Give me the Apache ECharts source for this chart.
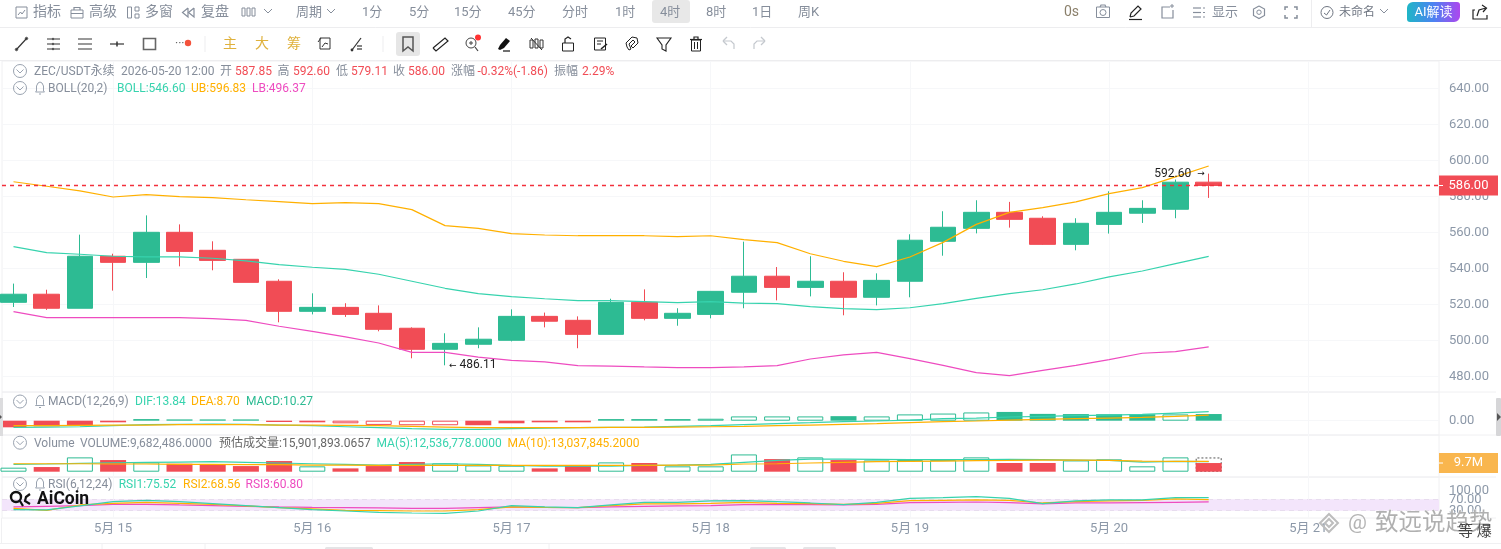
<!DOCTYPE html>
<html><head><meta charset="utf-8">
<style>html,body{margin:0;padding:0;background:#fff}#c{width:1501px;height:549px}</style>
<script src="https://cdn.jsdelivr.net/npm/echarts@6/dist/echarts.min.js"></script>
</head><body><div id="c"></div>
<script>
const dayIndex=[3,9,15,21,27,33,39];
const dayLabels=['5月 15','5月 16','5月 17','5月 18','5月 19','5月 20','5月 21'];
const priceTicks=[480,500,520,540,560,580,600,620,640];
const opens=[521.1,525.6,517.8,546.7,543.3,560,550,545,532.8,516.1,518.3,515,506.7,495,497.8,500,513.3,511.1,503.3,521.1,512.2,514.4,526.7,535.6,529.4,532.8,523.9,532.8,555,562.2,571.1,567.8,553.3,564.4,570.6,572.8,587.85];
const closes=[525.6,517.8,546.7,543.3,560,549.4,544.4,532.2,516.1,518.3,514.4,506.1,495,498.3,500.6,513.3,510.6,503.3,521.1,512.2,515,527.2,535.6,529.4,532.8,523.9,533.3,555.6,562.8,571.1,567.2,553.3,565,571.1,573.3,587.85,586];
const lows=[518.5,516.9,517.8,527.6,534.6,541.1,538.9,532.2,510,514.4,513,505,490,486.11,495.6,499.4,507.2,495.6,503.3,511.1,508.1,512.2,517.8,522.2,524.4,513.9,519.4,523.9,547,559.4,562.6,553,550,559.3,565.2,567.8,579.11];
const highs=[531.5,528.1,558.7,548.1,569.4,564.4,555,545,533.9,526.1,520.6,519.4,507.2,503.9,507.2,517.2,515.4,513.3,523.1,528.3,517.8,527.2,554.8,540.7,546.7,537.8,537.2,558.9,571.7,577.8,576.9,568.9,567.8,582.8,577.8,589.3,592.6];
const bollMid=[552,548.7,547.8,546.7,546.3,546.3,545.6,544.1,542,540.6,539.4,536.7,532.8,528.9,525.9,524.3,523.1,522,522,521.5,520.9,521.5,520.7,520.4,518.7,517.6,517,518.1,520.4,523.3,525.9,528.1,531.3,535.2,538.5,542.6,546.6];
const bollUp=[588.1,585.6,583,579.6,580.9,579.8,579.3,578.1,577,575.9,576.5,575.9,572.6,563.7,562.2,559.3,558.5,558.1,558.1,558.1,557.6,558.1,555.9,554.3,548.1,543.9,540.9,546.3,554.4,564.4,571.1,573.7,576.9,581.5,584.8,590.8,596.83];
const bollLow=[515.9,512.6,512.6,512.6,512.6,512.6,512,511.1,507.8,505,501.9,498.5,493.3,493.3,490.7,488.9,488,485.9,485.7,485.2,484.8,484.8,485.2,485.9,489.6,491.9,493.3,489.8,486.1,482,480.4,483.3,486.1,489.3,492.8,493.7,496.37];
const macdBars=[-10.2,-8.7,-7,-2.5,2.5,2,2,2,-2,-2.5,-4,-6.5,-7,-7,-7,-4,-2.5,-2.5,2.5,2.5,2.5,3,6.6,6.6,6.6,7,6.6,9.7,11,12.7,13.5,10.5,10.2,10,10,9.7,10.27];
const macdHollow=[0,0,0,0,0,0,0,0,0,0,1,1,1,1,0,0,0,0,0,0,0,1,1,1,1,0,1,1,1,1,0,0,0,0,0,1,0];
const dif=[-10.3,-9.8,-9.3,-7.7,-6.2,-5.7,-5.1,-5.7,-6.7,-7.7,-9.3,-10.8,-12.3,-13.4,-13.4,-12.3,-11.3,-10.8,-10.3,-9.8,-8.7,-7.7,-6.2,-4.6,-3.1,-1.5,-0.5,1,3.1,4.1,5.7,6.7,7.7,8.7,9.8,11.8,13.84];
const dea=[-7.7,-7.7,-7.2,-6.7,-6.7,-6.2,-6.2,-6.2,-6.7,-6.7,-7.2,-7.7,-8.7,-9.8,-10.8,-10.8,-10.8,-10.8,-10.3,-10.3,-9.8,-9.3,-8.7,-7.7,-6.7,-5.7,-4.6,-3.1,-1.5,-0.5,1,2,3.1,4.1,5.1,6.7,8.7];
const volumes=[4.5,5.2,16,13,10.4,8.9,7.8,6.3,11.9,6,3.7,6.3,10.8,9.3,7,6.7,3.7,7,10.4,9.7,6,6,19.3,14.1,16,13,12.6,13,13,16,9.7,9.7,12.6,13.8,6,16,9.68];
const volumeHollow=[1,0,1,0,1,0,0,0,0,1,0,0,0,1,1,1,0,0,1,0,1,1,1,0,1,0,1,1,1,1,0,0,1,1,1,1,0];
const volumeForecast=15.9;
const volMa5=[8.2,8.6,9.3,10,10.4,10.8,11.2,10.4,9.7,8.9,8.2,7.4,8.2,8.9,8.2,7.1,6.3,6.3,6.3,7.1,7.4,8.2,10.4,12.6,14.1,14.1,13.8,13.4,13.4,13.4,13.8,13.4,13,12.6,10.8,11.5,11.2];
const volMa10=[8.9,8.9,8.9,8.6,8.6,8.2,8.2,7.8,7.8,7.4,7.4,7.1,7.1,7.1,7.1,7.1,7.1,7.1,7.1,7.1,7.4,7.4,8.6,8.9,9.7,10.4,11.2,11.5,11.9,12.3,12.6,13,13,12.6,11.9,11.5,11.5];
const rsi1=[33.7,32.6,46.6,61.8,66.5,61.8,54.8,47.8,40.8,33.7,29,24.4,22,20.9,29,47.8,43.1,40.8,50.1,59.5,59.5,64.2,65.3,61.8,57.1,51.3,59.5,73.5,75.9,79.4,73.5,54.8,64.2,67.7,67.7,75.9,75.52];
const rsi2=[38.4,31.4,50.1,56,59.5,56,52.5,46.6,40.8,36.1,31.4,30.2,29,29,33.7,43.1,41.9,40.8,47.8,53.6,53.6,56,59.5,56,54.8,52.5,56,65.3,66.5,67.7,66.5,57.1,61.8,64.2,66.5,71.2,68.56];
const rsi3=[43.1,45.4,47.8,52.5,52.5,50.1,47.8,45.4,43.1,41.9,40.8,39.6,38.4,38.4,40.8,43.1,41.9,40.8,43.1,45.4,46.6,47.8,51.3,52.5,51.3,50.1,52.5,58.3,59.5,60.6,58.3,53.6,57.1,57.1,58.3,59.5,60.8];

const GREEN='#2dbb93',RED='#f14c55',TEAL='#37d3ae',ORANGE='#ffb000',PINK='#ee4cc0',GRID='#f6f7f9',LINE='#f0f0f2',AXT='#8c98a8',TXT='#868e9b';
const FONT='Roboto,"Noto Sans CJK SC",sans-serif';
const xMin=-0.3464,xMax=42.937,barW=26;
const idx=opens.map((_,i)=>i);
const pair=a=>a.map((v,i)=>[i,v]);
const panes=[
 {top:61,bottom:392,min:471.28,max:655.17,ticks:priceTicks,labels:priceTicks},
 {top:392,bottom:435,min:-22.03,max:44.2,ticks:[0],labels:[0]},
 {top:435,bottom:477,min:-5.92,max:41,ticks:[],labels:[]},
 {top:477,bottom:518,min:4.4,max:148.2,ticks:[30,70],labels:[30,100]}
];
const grids=panes.map(p=>({left:2,width:1437,top:p.top,height:p.bottom-p.top,show:true,borderColor:LINE,borderWidth:1,backgroundColor:'transparent'}));
const xAxes=panes.map((p,k)=>({type:'value',gridIndex:k,min:xMin,max:xMax,
 axisLine:{show:false},axisTick:{show:false,customValues:dayIndex},
 axisLabel:k===3?{show:true,customValues:dayIndex,formatter:v=>dayLabels[dayIndex.indexOf(v)]||'',color:AXT,fontSize:13,fontFamily:FONT,margin:4,hideOverlap:false}:{show:false},
 splitLine:{show:true,lineStyle:{color:GRID,width:1}}}));
const yLabel=vals=>({show:vals.length>0,customValues:vals,formatter:v=>v.toFixed(2),color:AXT,fontSize:13,fontFamily:FONT,margin:10,hideOverlap:false,showMinLabel:true,showMaxLabel:true});
const yAxes=panes.map((p,k)=>({type:'value',gridIndex:k,position:'right',min:p.min,max:p.max,
 axisLine:{show:false},axisTick:{show:false,customValues:p.ticks},
 axisLabel:yLabel(p.labels),
 splitLine:{show:p.ticks.length>0,lineStyle:k===3?{color:'#c4c4c8',type:[5,4],width:1}:{color:GRID,width:1}}}));
// second RSI label axis: its one label overlaps the others, as in the reference
yAxes.push({type:'value',gridIndex:3,position:'right',offset:0,min:panes[3].min,max:panes[3].max,axisLine:{show:false},axisTick:{show:false,customValues:[70]},axisLabel:yLabel([70]),splitLine:{show:false}});
const line=(name,data,color,k,w)=>({name,type:'line',data:pair(data),xAxisIndex:k,yAxisIndex:k,symbol:'none',silent:true,z:5,lineStyle:{color,width:w||1.2},itemStyle:{color}});
const tag=(text,bg)=>({show:true,position:'end',distance:0,formatter:'{a|'+text+'}',rich:{a:{width:59,height:20,lineHeight:20,align:'center',backgroundColor:bg,color:'#fff',fontSize:13,fontFamily:FONT}}});
const hollowBars=(vals,flags,colorOf,k,name)=>({name,type:'bar',xAxisIndex:k,yAxisIndex:k,barWidth:barW,barGap:'-100%',silent:true,z:3,
 data:vals.map((v,i)=>{const c=colorOf(i,v);return {value:[i,v],itemStyle:flags[i]?{color:'#fff',borderColor:c,borderWidth:1}:{color:c,borderColor:c,borderWidth:0}}})});
const annot={a:{fontSize:12,color:'#222',fontFamily:FONT},r:{fontSize:9,color:'#111',fontFamily:'"DejaVu Sans"'}};
const lowest=Math.min(...lows),highest=Math.max(...highs);
const series=[
 {name:'K',type:'candlestick',xAxisIndex:0,yAxisIndex:0,barWidth:barW,silent:true,z:3,
  data:idx.map(i=>[i,opens[i],closes[i],lows[i],highs[i]]),
  itemStyle:{color:GREEN,color0:RED,borderColor:GREEN,borderColor0:RED,borderWidth:1},
  markPoint:{silent:true,symbol:'circle',symbolSize:0,animation:false,z:8,data:[
    {coord:[lows.indexOf(lowest),lowest],label:{show:true,position:'right',distance:4,formatter:'{r|←} {a|'+lowest.toFixed(2)+'}',rich:annot}},
    {coord:[highs.indexOf(highest),highest],label:{show:true,position:'left',distance:4,formatter:'{a|'+highest.toFixed(2)+'}  {r|→}',rich:annot}}
  ]}
 },
 {name:'Last',type:'line',xAxisIndex:0,yAxisIndex:0,symbol:'none',silent:true,z:6,data:[[xMin,closes[36]],[xMax,closes[36]]],lineStyle:{color:'#f2303c',type:[4,4],width:1.5},itemStyle:{color:RED},
  markLine:{silent:true,symbol:'none',animation:false,z:9,lineStyle:{color:'transparent',width:0},label:tag(closes[36].toFixed(2),RED),data:[[{coord:[xMin,closes[36]]},{coord:[xMax,closes[36]]}]]}},
 line('BOLL',bollMid,TEAL,0),line('UB',bollUp,ORANGE,0),line('LB',bollLow,PINK,0),
 hollowBars(macdBars,macdHollow,(i,v)=>v>=0?GREEN:RED,1,'MACD'),
 line('DIF',dif,TEAL,1),line('DEA',dea,ORANGE,1),
 hollowBars(volumes,volumeHollow,(i)=>volumeHollow[i]?GREEN:RED,2,'VOLUME'),
 {name:'Forecast',type:'bar',xAxisIndex:2,yAxisIndex:2,barWidth:barW,barGap:'-100%',silent:true,z:2,data:[[36,volumeForecast]],itemStyle:{color:'transparent',borderColor:'#555',borderWidth:1,borderType:[2,2]}},
 Object.assign(line('MA5',volMa5,TEAL,2),{markLine:{silent:true,symbol:'none',animation:false,z:9,lineStyle:{color:'transparent',width:0},label:tag('9.7M','#f9b64e'),data:[[{coord:[xMin,volumes[36]]},{coord:[xMax,volumes[36]]}]]}}),
 line('MA10',volMa10,ORANGE,2),
 Object.assign(line('RSI3',rsi3,PINK,3),{markArea:{silent:true,animation:false,itemStyle:{color:'#f3e5fb'},data:[[{yAxis:30},{yAxis:70}]]},z:5}),
 line('RSI2',rsi2,ORANGE,3),line('RSI1',rsi1,TEAL,3)
];
// ---- page chrome
const G=[];
const Z=50,DY=0.8;
const T=(text,x,y,o={})=>G.push({type:'text',z:o.z||Z,x,y:y+DY,style:{text,fill:o.color||TXT,font:(o.weight||'normal')+' '+(o.size||12)+'px '+FONT,textAlign:o.align||'left',textVerticalAlign:'middle',stroke:o.stroke,lineWidth:o.sw||0,opacity:o.op==null?1:o.op}});
const P=(pts,o={})=>G.push({type:'polyline',z:o.z||Z,shape:{points:pts},style:{stroke:o.color||TXT,lineWidth:o.w||1.2,fill:null}});
const R=(x,y,w,h,o={})=>G.push({type:'rect',z:o.z||Z,shape:{x,y,width:w,height:h,r:o.r||0},style:{stroke:o.stroke||null,lineWidth:o.w||1,fill:o.fill||null}});
const C=(x,y,r,o={})=>G.push({type:'circle',z:o.z||Z,shape:{cx:x,cy:y,r},style:{stroke:o.stroke||null,lineWidth:o.w||1,fill:o.fill||null}});
const chev=(x,y,c)=>P([[x-4,y-2],[x,y+2],[x+4,y-2]],{color:c||TXT,w:1});
const circChev=(y)=>{C(20,y,6.5,{stroke:'#9aa3b0',w:1});P([[16.5,y-1.5],[20,y+2],[23.5,y-1.5]],{color:'#9aa3b0',w:1});};
const bell=(y)=>{P([[35.5,y+4],[36.5,y+3],[36.5,y-2],[38,y-5],[40,y-6],[42,y-5],[43.5,y-2],[43.5,y+3],[44.5,y+4],[35.5,y+4]],{color:'#9aa3b0',w:1});P([[39,y+6],[41,y+6]],{color:'#9aa3b0',w:1});};
// toolbar separators
[[0,27.5,1501,27.5],[0,60.5,1501,60.5],[1311.5,0,1311.5,27]].forEach(a=>P([[a[0],a[1]],[a[2],a[3]]],{color:'#ededef',w:1}));
[205,383].forEach(x=>P([[x,36],[x,52]],{color:'#ededef',w:1}));
R(652,0,38,23,{fill:'#e8e8e8',r:3});
// row 1
[['指标',33],['高级',89],['多窗',145],['复盘',201]].forEach(a=>T(a[0],a[1],12,{size:14}));
[['周期',296],['1分',362],['5分',409],['15分',454],['45分',508],['分时',562],['1时',615],['4时',660],['8时',706],['1日',752],['周K',798],['显示',1212]].forEach(a=>T(a[0],a[1],12,{size:13}));
T('0s',1064,12,{size:14,color:'#8a7f6a'});
T('未命名',1339,12,{size:12,color:'#6f7682'});
R(16,7,11,11,{stroke:TXT});P([[18,15],[20.5,12],[22,14],[25,10]],{w:1});
R(71,10,12,8,{stroke:TXT});P([[74,10],[74,7.5],[80,7.5],[80,10]]);P([[71,13.5],[83,13.5]],{w:1});
R(127.5,7,4,11,{stroke:TXT});R(135,7,4,4,{stroke:TXT});R(135,14,4,4,{stroke:TXT});
P([[188,8],[182.5,12.5],[188,17],[188,8]]);P([[194,8],[188.5,12.5],[194,17],[194,8]]);
R(242,8,3,8,{stroke:TXT});R(247,8,3,8,{stroke:TXT});R(252,8,3,8,{stroke:TXT});chev(268,11);chev(331,11);
R(1096.5,7,13,10.5,{stroke:TXT});C(1103,12.5,3,{stroke:TXT});P([[1100,7],[1101,5],[1105,5],[1106,7]]);
P([[1130,17],[1131,13],[1138,6],[1141,9],[1134,16],[1130,17]],{color:'#222'});P([[1129,19.5],[1142,19.5]],{color:'#222'});
P([[1170,7],[1162,7],[1162,18],[1173,18],[1173,10]]);P([[1172,4],[1172,8]],{w:1});P([[1170,6],[1174,6]],{w:1});
[8,12.5,17].forEach(y=>{P([[1193,y],[1201,y]]);P([[1203,y],[1205,y]]);});
P([[1259,6],[1264.5,9],[1264.5,15.5],[1259,18.5],[1253.5,15.5],[1253.5,9],[1259,6]]);C(1259,12.2,2.2,{stroke:TXT});
[[1285,10,1285,7,1288,7],[1294,7,1297,7,1297,10],[1297,15,1297,18,1294,18],[1288,18,1285,18,1285,15]].forEach(a=>P([[a[0],a[1]],[a[2],a[3]],[a[4],a[5]]],{w:1.5}));
C(1327,12.5,6,{stroke:'#6f7682'});P([[1324,13],[1326.5,15],[1330,10]],{color:'#6f7682',w:1});chev(1384,11);
G.push({type:'rect',z:Z,shape:{x:1407,y:2,width:53,height:20,r:[6,3,6,3]},style:{fill:{type:'linear',x:0,y:0,x2:1,y2:0,colorStops:[{offset:0,color:'#1fb6c6'},{offset:.5,color:'#4c82f2'},{offset:1,color:'#ad47ee'}]}}});
T('AI解读',1433.5,12,{size:13,color:'#fff',align:'center'});
P([[1475,10],[1473,10],[1473,19],[1487,19],[1487,15]],{color:'#222'});P([[1477,16],[1479,10],[1486,8]],{color:'#222'});P([[1482,5],[1486.5,8],[1483,12]],{color:'#222'});
// row 2
const y2=44;
P([[16,50],[27,38]],{color:'#333'});C(16.5,49.5,1.2,{stroke:'#333'});C(26.5,38.5,1.2,{stroke:'#333'});
[39,44,49].forEach(y=>{P([[47,y],[60,y]],{color:'#555'});P([[78,y],[92,y]],{color:'#555'});});C(53,39,1.2,{fill:'#555'});C(53,49,1.2,{fill:'#555'});C(53,44,1.2,{fill:'#555'});
P([[110,44],[124,44]],{color:'#333'});P([[117,41.5],[117,46.5]],{color:'#333',w:1.5});
R(143.5,38.5,12,11,{stroke:'#666',w:1.6});
T('···',175,43,{size:12,color:'#666'});C(188,43,3.2,{fill:'#f4523b'});
[['主',230],['大',262],['筹',294]].forEach(a=>T(a[0],a[1],y2,{size:14,color:'#dfb13c',align:'center'}));
R(320,38,10,11,{stroke:'#333'});P([[322,47],[325,43],[328,44]],{color:'#333',w:1});P([[318,42],[321,38]],{color:'#333',w:1});P([[352,50],[361,38]],{color:'#333'});P([[357,46],[362,46]],{color:'#333'});P([[357,49],[362,49]],{color:'#333'});C(352,50,1.4,{fill:'#333'});
R(396,32,24,24,{fill:'#e6e6e6',r:3});
G.push({type:'polygon',z:Z,shape:{points:[[403,37],[413,37],[413,51],[408,47],[403,51]]},style:{fill:null,stroke:'#555',lineWidth:1.5}});
P([[433,48],[445,38],[448,41],[436,51],[433,48]],{color:'#222'});
C(471,43,5,{stroke:'#444'});P([[475,47],[478,51]],{color:'#444'});P([[469,43],[473,43]],{color:'#444',w:1});P([[471,41],[471,45]],{color:'#444',w:1});C(478,37.5,3,{fill:'#f33'});
G.push({type:'polygon',z:Z,shape:{points:[[498,49],[500,45],[506,38],[510,41],[504,48],[500,50]]},style:{fill:'#111'}});P([[503,51],[510,51]],{color:'#111'});
R(530,40,3,8,{stroke:'#333'});R(535,39,3,9,{stroke:'#333'});R(540,40,3,8,{stroke:'#333'});P([[531,38],[542,50]],{color:'#333',w:1});
R(562.5,43,11,8,{stroke:'#222'});P([[565,43],[565,39],[568,37],[571,39]],{color:'#222'});
R(594.5,38,11,12,{stroke:'#222'});P([[597,41],[603,41]],{color:'#222',w:1});P([[597,44],[601,44]],{color:'#222',w:1});P([[601,49],[607,44]],{color:'#222',w:1.6});
P([[627,47],[626,43],[632,37],[637,38],[638,43],[633,48],[631,46],[635,42],[633,40],[629,44],[631,49],[629,50],[627,47]],{color:'#222',w:1});
G.push({type:'polygon',z:Z,shape:{points:[[657,38],[671,38],[666,45],[666,51],[662,49],[662,45]]},style:{fill:null,stroke:'#222',lineWidth:1.1}});
R(691.5,40,9,11,{stroke:'#222'});P([[690,39.5],[702,39.5]],{color:'#222'});P([[694,39],[694,37],[698,37],[698,39]],{color:'#222'});P([[694.5,42],[694.5,49]],{color:'#222',w:1});P([[697.5,42],[697.5,49]],{color:'#222',w:1});
P([[723,41],[727,37]],{color:'#c4c8ce'});P([[723,41],[727,45]],{color:'#c4c8ce'});P([[723,41],[731,41],[734,44],[734,49]],{color:'#c4c8ce'});
P([[765,41],[761,37]],{color:'#c4c8ce'});P([[765,41],[761,45]],{color:'#c4c8ce'});P([[765,41],[757,41],[754,44],[754,49]],{color:'#c4c8ce'});
// info rows
const seq=(y,items)=>items.forEach(a=>T(a[0],a[1],y,{color:a[2]||TXT,size:12}));
circChev(71);circChev(88);circChev(401.5);circChev(442.7);circChev(484);
bell(88);bell(401.5);bell(484);
seq(71,[['ZEC/USDT永续',34],['2026-05-20 12:00',121],['开',220],['587.85',235,RED],['高',277.5],['592.60',293,RED],['低',336],['579.11',351,RED],['收',393],['586.00',408,RED],['涨幅',451],['-0.32%(-1.86)',477.5,RED],['振幅',554],['2.29%',582,RED]]);
seq(88,[['BOLL(20,2)',48],['BOLL:546.60',117,TEAL],['UB:596.83',191,ORANGE],['LB:496.37',252,PINK]]);
seq(401.5,[['MACD(12,26,9)',48],['DIF:13.84',135,TEAL],['DEA:8.70',191,ORANGE],['MACD:10.27',246,GREEN]]);
seq(442.7,[['Volume',34],['VOLUME:9,682,486.0000',80],['预估成交量:15,901,893.0657',219,'#666'],['MA(5):12,536,778.0000',376.5,TEAL],['MA(10):13,037,845.2000',507.6,ORANGE]]);
seq(484,[['RSI(6,12,24)',48],['RSI1:75.52',118.7,TEAL],['RSI2:68.56',183,ORANGE],['RSI3:60.80',245.5,PINK]]);
// pane separators, handles, bottom strip
[392,435,477,518].forEach(y=>P([[1439,y],[1496,y]],{color:'#f0f0f2',w:1}));
P([[0,543.5],[1501,543.5]],{color:LINE,w:1});
P([[1.5,518],[1.5,543]],{color:LINE,w:1});
[102,205,549].forEach(x=>P([[x,544],[x,549]],{color:LINE,w:1}));
[[325,48],[750,36],[803,33]].forEach(a=>R(a[0],547,a[1],3,{fill:'#e4e4e6',r:1.5}));
R(0,398,3,38,{fill:'#dcdcde'});R(1496,398,5,38,{fill:'#d6d6d8',r:1});
G.push({type:'polygon',z:Z,shape:{points:[[1497,413],[1501,417],[1497,421]]},style:{fill:'#555'}});
G.push({type:'polygon',z:Z,shape:{points:[[0,415],[2,417],[0,419]]},style:{fill:'#555'}});
P([[1439,185.5],[1443,185.5]],{color:'#fff',w:1,z:70});P([[1439,463],[1443,463]],{color:'#fff',w:1,z:70});
// logo
C(16,497,5,{stroke:'#111',w:2.4});P([[20,501],[23,506]],{color:'#111',w:2.2});P([[30,494],[26,497],[25,501],[30,504]],{color:'#111',w:2.2});
G.push({type:'text',z:Z,x:37,y:500,style:{text:'AiCoin',fill:'#111',font:'bold 17.5px '+FONT,textVerticalAlign:'middle'}});
// watermark
[[1329,523,9],[1329,523,4]].forEach(a=>G.push({type:'polygon',z:60,shape:{points:[[a[0],a[1]-a[2]],[a[0]+a[2],a[1]],[a[0],a[1]+a[2]],[a[0]-a[2],a[1]]]},style:{fill:null,stroke:'#bdbdbd',lineWidth:2}}));
T('@',1348,523,{size:21,color:'#b4b4b4',z:60});
T('致远说趋势',1375,523,{size:23.5,color:'#b0b0b0',stroke:'#fff',sw:.6,z:60});
T('等 爆',1458,531,{size:15,color:'#444',z:61});

const chart=echarts.init(document.getElementById('c'));
chart.setOption({animation:false,backgroundColor:'#fff',textStyle:{fontFamily:FONT},grid:grids,xAxis:xAxes,yAxis:yAxes,series,graphic:{elements:G}});
</script></body></html>
